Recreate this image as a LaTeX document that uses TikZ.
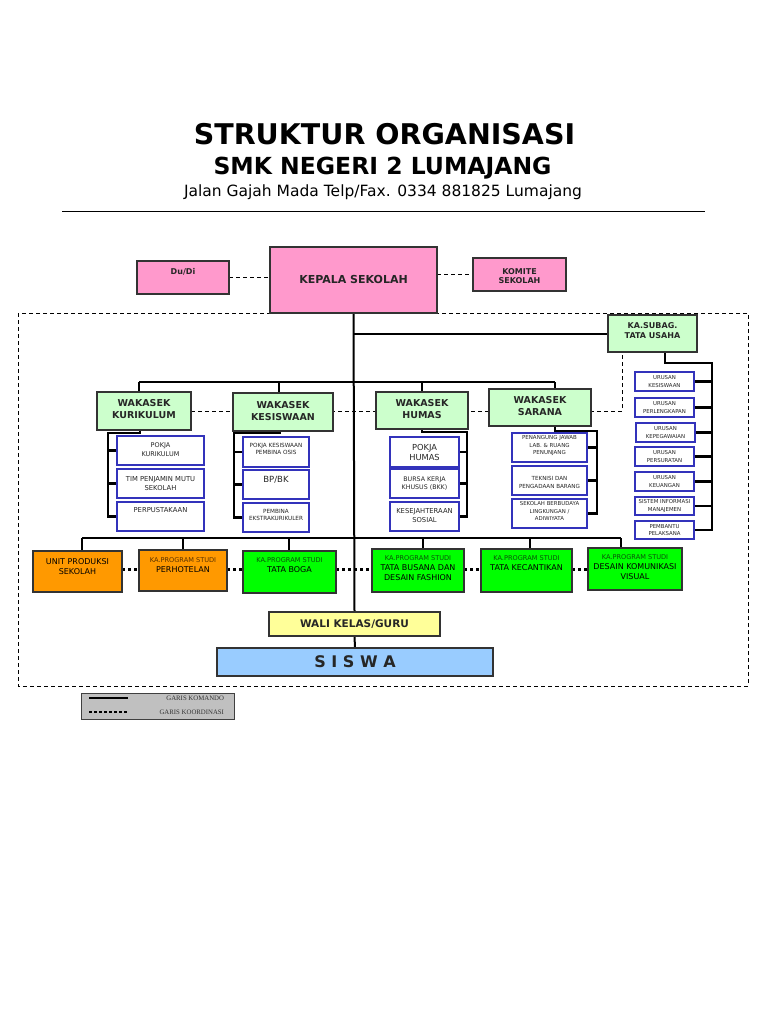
\documentclass[tikz,border=0pt]{standalone}
\usepackage{fontspec}
\setmainfont{DejaVu Sans}
\newfontfamily\legfont{Liberation Serif}
\definecolor{pinkc}{HTML}{FF99CC}
\definecolor{lgc}{HTML}{CCFFCC}
\definecolor{orc}{HTML}{FF9900}
\definecolor{grc}{HTML}{00FF00}
\definecolor{yelc}{HTML}{FFFF99}
\definecolor{bluc}{HTML}{99CCFF}
\definecolor{subb}{HTML}{3333BB}
\definecolor{legc}{HTML}{C0C0C0}
\definecolor{orsmall}{HTML}{5A3300}
\definecolor{grsmall}{HTML}{0A520A}
\pgfdeclarelayer{bgzero}
\pgfdeclarelayer{bglines}
\pgfsetlayers{bgzero,bglines,main}
\newcommand\obox[9]{%
  \pgfmathsetmacro\obw{#6-#4}%
  \pgfmathsetmacro\obh{#7-#5}%
  \pgfmathsetmacro\obx{(#4+#6)/2}%
  \pgfmathsetmacro\oby{(#5+#7)/2}%
  \node[#2,minimum width=\obw pt,minimum height=\obh pt] (#1) at (\obx,\oby) {};%
  \node[#3] (#1-t) at (\obx,#8) {#9};}
\tikzset{
  every node/.style={inner sep=0pt, outer sep=0pt},
  boxbase/.style={draw=black!80, line width=1.3pt},
  pinkbox/.style={boxbase, fill=pinkc},
  lgbox/.style={boxbase, fill=lgc},
  orbox/.style={boxbase, fill=orc},
  grbox/.style={boxbase, fill=grc},
  yelbox/.style={boxbase, fill=yelc},
  blubox/.style={boxbase, fill=bluc},
  subbox/.style={draw=subb, line width=1.1pt, fill=white},
  tx/.style={align=center, text=black!85},
  ktxt/.style={tx, font=\bfseries\fontsize{11}{13}\selectfont},
  sbtxt/.style={tx, font=\bfseries\fontsize{8}{9.5}\selectfont},
  tutxt/.style={tx, font=\bfseries\fontsize{8}{10.5}\selectfont},
  wtxt/.style={tx, font=\bfseries\fontsize{9.5}{12}\selectfont},
  sub/.style 2 args={tx, font=\fontsize{#1}{#2}\selectfont},
  usub/.style={tx, font=\fontsize{5.4}{7.4}\selectfont},
  ptxt/.style={tx, text=black, font=\fontsize{8}{10}\selectfont},
  cmdline/.style={line width=2pt, draw=black},
  barline/.style={line width=2.5pt, draw=black},
  brk/.style={line width=2.8pt, draw=black, line join=miter},
  crd/.style={line width=0.9pt, draw=black, dash pattern=on 4pt off 3pt},
  dotl/.style={line width=3pt, draw=black, dash pattern=on 3pt off 3pt},
}
\begin{document}
\begin{tikzpicture}[x=1pt,y=-1pt]
\begin{pgfonlayer}{bgzero}
\fill[white] (0,0) rectangle (768,1024);
\end{pgfonlayer}
\useasboundingbox (0,0) rectangle (768,1024);

% titles
\node[anchor=base, font=\bfseries\fontsize{28.5}{30}\selectfont] (t1) at (384.5,145) {STRUKTUR ORGANISASI};
\node[anchor=base, font=\bfseries\fontsize{23.5}{25}\selectfont] (t2) at (382.5,175) {SMK NEGERI 2 LUMAJANG};
\node[anchor=base, font=\fontsize{15.5}{17}\selectfont] (t3) at (383,197) {Jalan Gajah Mada Telp/Fax. 0334 881825 Lumajang};
\coordinate (rl) at (62,212);
\coordinate (rr) at (705,212);
\draw[line width=1pt] (rl) -- (rr);

% top boxes
\obox{ks}{pinkbox}{ktxt}{270}{247}{437}{313}{279}{KEPALA SEKOLAH}
\obox{dudi}{pinkbox}{sbtxt}{137}{261}{229}{294}{272}{Du/Di}
\obox{kom}{pinkbox}{sbtxt}{473}{258}{566}{291}{276}{KOMITE\\SEKOLAH}
\obox{tu}{lgbox}{tutxt}{608}{315}{697}{352}{330.5}{KA.SUBAG.\\TATA USAHA}

% wakasek
\obox{kur}{lgbox}{wtxt}{97}{392}{191}{430}{409}{WAKASEK\\KURIKULUM}
\obox{kes}{lgbox}{wtxt}{233}{393}{333}{431}{411}{WAKASEK\\KESISWAAN}
\obox{hum}{lgbox}{wtxt}{376}{392}{468}{429}{409}{WAKASEK\\HUMAS}
\obox{sar}{lgbox}{wtxt}{489}{389}{591}{426}{406}{WAKASEK\\SARANA}

% kurikulum subs
\obox{k1}{subbox}{sub={6.5}{8.8}}{117}{436}{204}{465}{450}{POKJA\\KURIKULUM}
\obox{k2}{subbox}{sub={6.8}{9}}{117}{469}{204}{498}{484}{TIM PENJAMIN MUTU\\SEKOLAH}
\obox{k3}{subbox}{sub={6.8}{9}}{117}{502}{204}{531}{510}{PERPUSTAKAAN}
% kesiswaan subs
\obox{s1}{subbox}{sub={5.7}{7.8}}{243}{437}{309}{467}{449}{POKJA KESISWAAN\\PEMBINA OSIS}
\obox{s2}{subbox}{sub={8.5}{10}}{243}{470}{309}{499}{480}{BP/BK}
\obox{s3}{subbox}{sub={5.7}{7.8}}{243}{503}{309}{532}{515}{PEMBINA\\EKSTRAKURIKULER}
% humas subs
\obox{h1}{subbox}{sub={8.3}{10}}{390}{437}{459}{467}{452}{POKJA\\HUMAS}
\obox{h2}{subbox}{sub={6.3}{8.8}}{390}{469}{459}{498}{483.5}{BURSA KERJA\\KHUSUS (BKK)}
\obox{h3}{subbox}{sub={6.8}{9}}{390}{502}{459}{531}{515.5}{KESEJAHTERAAN\\SOSIAL}
% sarana subs
\obox{r1}{subbox}{sub={5.5}{7.5}}{512}{433}{587}{462}{446}{PENANGUNG JAWAB\\LAB. \& RUANG\\PENUNJANG}
\obox{r2}{subbox}{sub={5.6}{8}}{512}{466}{587}{495}{482}{TEKNISI DAN\\PENGADAAN BARANG}
\obox{r3}{subbox}{sub={5.4}{7.2}}{512}{499}{587}{528}{511}{SEKOLAH BERBUDAYA\\LINGKUNGAN /\\ADIWIYATA}
% TU subs
\obox{u1}{subbox}{usub}{635}{372}{694}{391}{381.5}{URUSAN\\KESISWAAN}
\obox{u2}{subbox}{usub}{635}{398}{694}{417}{407.5}{URUSAN\\PERLENGKAPAN}
\obox{u3}{subbox}{usub}{636}{423}{695}{442}{432.5}{URUSAN\\KEPEGAWAIAN}
\obox{u4}{subbox}{usub}{635}{447}{694}{466}{456.5}{URUSAN\\PERSURATAN}
\obox{u5}{subbox}{usub}{635}{472}{694}{491}{481.5}{URUSAN\\KEUANGAN}
\obox{u6}{subbox}{usub}{635}{497}{694}{515}{506}{SISTEM INFORMASI\\MANAJEMEN}
\obox{u7}{subbox}{usub}{635}{521}{694}{539}{530}{PEMBANTU\\PELAKSANA}

% program studi
\obox{up}{orbox}{ptxt}{33}{551}{122}{592}{567}{UNIT PRODUKSI\\SEKOLAH}
\obox{ph}{orbox}{ptxt}{139}{550}{227}{591}{565}{{\fontsize{6.6}{8}\selectfont\color{orsmall}KA.PROGRAM STUDI}\\PERHOTELAN}
\obox{tb}{grbox}{ptxt}{243}{551}{336}{593}{565}{{\fontsize{6.6}{8}\selectfont\color{grsmall}KA.PROGRAM STUDI}\\TATA BOGA}
\obox{tbs}{grbox}{ptxt}{372}{549}{464}{592}{568}{{\fontsize{6.6}{8}\selectfont\color{grsmall}KA.PROGRAM STUDI}\\TATA BUSANA DAN\\DESAIN FASHION}
\obox{tk}{grbox}{ptxt}{481}{549}{572}{592}{563}{{\fontsize{6.6}{8}\selectfont\color{grsmall}KA.PROGRAM STUDI}\\TATA KECANTIKAN}
\obox{dkv}{grbox}{ptxt}{588}{548}{682}{590}{567.5}{{\fontsize{6.6}{8}\selectfont\color{grsmall}KA.PROGRAM STUDI}\\DESAIN KOMUNIKASI\\VISUAL}

% wali, siswa
\obox{wali}{yelbox}{tx,font=\bfseries\fontsize{10.5}{12}\selectfont}{269}{612}{440}{636}{624}{WALI KELAS/GURU}
\obox{sis}{blubox}{tx,font=\bfseries\fontsize{16}{18}\selectfont}{217}{648}{493}{676}{662}{S I S W A}

% legend
\node[draw=black!75, line width=1pt, fill=legc, minimum width=153pt, minimum height=26pt] (leg) at (157.5,706) {};
\coordinate (l1a) at (89,698);
\coordinate (l1b) at (128,698);
\coordinate (l2a) at (89,712);
\coordinate (l2b) at (128,712);
\node[anchor=east, font=\legfont\fontsize{6.8}{8}\selectfont, text=black!80] (lk1) at (224,698.5) {GARIS KOMANDO};
\node[anchor=east, font=\legfont\fontsize{6.8}{8}\selectfont, text=black!80] (lk2) at (224,712.5) {GARIS KOORDINASI};
\draw[line width=1.6pt] (l1a) -- (l1b);
\draw[line width=2.6pt, dash pattern=on 2.6pt off 2.4pt] (l2a) -- (l2b);

\begin{pgfonlayer}{bglines}
% outer dashed frame
\coordinate (fa) at (18,313);
\coordinate (fb) at (748,686);
\draw[crd] (fa) rectangle (fb);
% top dashed coordination
\draw[crd] (dudi.east) -- (dudi.east -| ks.west);
\draw[crd] (kom.west -| ks.east) -- (kom.west);
% wakasek coordination to TU
\coordinate (cr) at (622,411);
\draw[crd] (kur.east) -- (kur.east -| cr) -- (cr |- tu.south);
% trunk
\draw[cmdline] (ks.south) -- (wali.north);
\draw[cmdline] (wali.south) -- (sis.north);
\draw[cmdline] (ks.south |- tu.west) -- (tu.west);
% wakasek bar
\coordinate (wl) at (139,382);
\coordinate (wk) at (279,382);
\coordinate (wh) at (422,382);
\coordinate (wr) at (555,382);
\draw[barline] (wl) -- (wr);
\draw[cmdline] (wl) -- (wl |- kur.north);
\draw[cmdline] (wk) -- (wk |- kes.north);
\draw[cmdline] (wh) -- (wh |- hum.north);
\draw[cmdline] (wr) -- (wr |- sar.north);
% brackets
\coordinate (kd) at (140,433); \coordinate (kb) at (108,433);
\draw[brk] (kd |- kur.south) -- (kd) -- (kb) |- (k3.west);
\draw[brk] (kb |- k1.west) -- (k1.west);
\draw[brk] (kb |- k2.west) -- (k2.west);
\coordinate (sd) at (280,433); \coordinate (sb) at (234,433);
\draw[brk] (sd |- kes.south) -- (sd) -- (sb) |- (s3.west);
\draw[brk] (sb |- s1.west) -- (s1.west);
\draw[brk] (sb |- s2.west) -- (s2.west);
\coordinate (hd) at (422,432); \coordinate (hb) at (467,432);
\draw[brk] (hd |- hum.south) -- (hd) -- (hb) |- (h3.east);
\draw[brk] (hb |- h1.east) -- (h1.east);
\draw[brk] (hb |- h2.east) -- (h2.east);
\coordinate (rd) at (555,431); \coordinate (rb) at (597,431);
\draw[brk] (rd |- sar.south) -- (rd) -- (rb) |- (r3.east);
\draw[brk] (rb |- r1.east) -- (r1.east);
\draw[brk] (rb |- r2.east) -- (r2.east);
\coordinate (ud) at (665,363); \coordinate (ub) at (712,363);
\draw[brk] (ud |- tu.south) -- (ud) -- (ub) |- (u7.east);
\foreach \u in {u1,u2,u3,u4,u5,u6}{\draw[brk] (ub |- \u.east) -- (\u.east);}
% program bar
\coordinate (pl) at (82,538);
\coordinate (p2) at (183,538);
\coordinate (p3) at (289,538);
\coordinate (p4) at (423,538);
\coordinate (p5) at (530,538);
\coordinate (pr) at (621,538);
\draw[barline] (pl) -- (pr);
\draw[cmdline] (pl) -- (pl |- up.north);
\draw[cmdline] (p2) -- (p2 |- ph.north);
\draw[cmdline] (p3) -- (p3 |- tb.north);
\draw[cmdline] (p4) -- (p4 |- tbs.north);
\draw[cmdline] (p5) -- (p5 |- tk.north);
\draw[cmdline] (pr) -- (pr |- dkv.north);
% dotted coordination between programs
\coordinate (dl) at (0,569);
\draw[dotl] (up.east |- dl) -- (ph.west |- dl);
\draw[dotl] (ph.east |- dl) -- (tb.west |- dl);
\draw[dotl] (tb.east |- dl) -- (tbs.west |- dl);
\draw[dotl] (tbs.east |- dl) -- (tk.west |- dl);
\draw[dotl] (tk.east |- dl) -- (dkv.west |- dl);
\end{pgfonlayer}
\end{tikzpicture}
\end{document}
